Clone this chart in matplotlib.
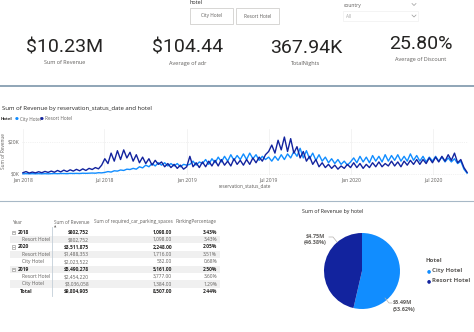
import matplotlib
matplotlib.use('Agg')
import matplotlib.pyplot as plt
import matplotlib.ticker as mticker
from matplotlib.patches import Rectangle
from matplotlib.lines import Line2D
import pandas as pd

# KPI cards
kpi_values = ['$10.23M', '$104.44', '367.94K', '25.80%']
kpi_labels = ['Sum of Revenue', 'Average of adr', 'TotalNights', 'Average of Discount']

# weekly revenue in $K, one list per year (weeks start on Monday)
resort_2018 = [0.8, 1.5, 0.6, 1.2, 0.7,  1.4, 0.8, 1.6, 1.0,  1.8, 1.1, 2.2, 1.3,
               2.4, 1.5, 2.6, 1.8, 2.9,  2.0, 3.2, 2.2, 3.5,  2.8, 4.0, 3.2, 5.5,
               9.5, 6.5, 13.0, 8.0, 14.5,  9.0, 15.0, 10.0, 13.5,  8.0, 12.0, 7.0, 10.5,
               6.5, 9.5, 5.5, 8.5, 6.0,  7.5, 4.5, 6.5, 4.0,  6.0, 3.5, 5.5, 3.0, 4.5]
resort_2019 = [11.0, 4.5, 7.0, 4.0,  7.5, 4.5, 8.0, 5.0,  8.5, 5.0, 9.0, 5.5,
               8.0, 5.0, 9.5, 6.0, 8.5,  5.5, 9.0, 6.0, 10.0,  7.0, 10.5, 8.0, 12.0,
               14.0, 18.0, 13.0, 21.0, 15.0,  23.0, 14.0, 22.0, 13.0,
               17.0, 10.0, 14.0, 8.0, 11.0,  6.0, 9.0, 4.5, 7.0,  4.0, 6.0, 3.5, 5.5,
               3.0, 5.0, 3.5, 6.0, 4.0]
resort_2020 = [7.0, 4.0, 6.5, 3.5,  6.0, 4.0, 7.0, 4.5,  7.5, 4.5, 6.5, 5.0, 8.0,
               5.0, 7.5, 4.5, 8.0,  5.5, 8.5, 6.0, 9.0,  6.0, 9.0, 6.5, 10.0, 7.0,
               10.5, 7.5, 11.0, 8.0,  12.0, 8.5, 13.0, 7.0, 9.0,  4.0, 1.0]

city_2018 = [0.1, 0.2, 0.1, 0.2, 0.1,  0.2, 0.1, 0.2, 0.1,  0.2, 0.3, 0.2, 0.3,
             0.3, 0.2, 0.4, 0.3, 0.4,  0.3, 0.5, 0.4, 0.5,  0.6, 0.5, 0.8, 0.7,
             1.0, 1.5, 1.2, 2.0, 1.8,  2.5, 2.2, 3.0, 2.8,  3.5, 3.0, 4.5, 3.8,
             5.5, 4.5, 6.5, 5.0, 7.0,  5.5, 7.0, 5.0, 6.5,  5.0, 6.5, 4.5, 6.0, 5.5]
city_2019 = [6.0, 8.0, 5.5, 7.5,  6.5, 9.0, 6.0, 9.5,  7.0, 10.5, 7.5, 11.0,
             8.0, 12.0, 8.5, 11.5, 9.0,  12.5, 9.0, 13.0, 9.5,  12.0, 8.5, 11.0, 9.0,
             10.5, 8.0, 11.0, 8.5, 12.0,  9.0, 12.5, 10.0, 14.0,
             11.0, 16.0, 10.0, 14.5, 9.5,  13.0, 8.5, 12.0, 8.0,  10.5, 7.0, 9.5, 6.5,
             9.0, 6.0, 8.0, 5.5, 7.5]
city_2020 = [10.0, 7.0, 11.0, 7.5,  10.5, 7.0, 11.5, 8.0,  11.0, 7.5, 12.0, 8.0, 11.5,
             8.5, 12.0, 8.0, 11.0,  8.0, 12.5, 8.5, 11.5,  8.0, 11.0, 7.5, 10.5, 8.0,
             11.0, 8.0, 10.5, 7.5,  10.0, 7.5, 9.5, 6.5, 8.0,  3.0, 0.5]

# matrix rows
row_labels = ['2018', 'Resort Hotel', '2020', 'Resort Hotel', 'City Hotel',
              '2019', 'Resort Hotel', 'City Hotel', 'Total']
row_level = [0, 1, 0, 1, 1, 0, 1, 1, 2]
row_revenue = [802752, 802752, 3511875, 1488353, 2023522, 5490278, 2454220, 3036058, 9804905]
row_parking = [1098, 1098, 2248, 1716, 532, 5161, 3777, 1384, 8507]
row_parking_pct = [3.43, 3.43, 2.05, 3.51, 0.68, 2.50, 3.60, 1.29, 2.44]

# pie
hotels = ['City Hotel', 'Resort Hotel']
hotel_revenue = [5.486e6, 4.746e6]

CITY = '#118DFF'
RESORT = '#12239E'
DARK = '#252423'
GREY = '#605e5c'
SANS = ['Open Sans', 'DejaVu Sans']

W, H = 474, 332
fig = plt.figure(figsize=(W / 100, H / 100), dpi=100)
fig.patch.set_facecolor('white')


def fx(x):
    return x / W


def fy(y):
    return 1 - y / H


def txt(x, y, s, **kw):
    kw.setdefault('family', SANS)
    kw.setdefault('va', 'center')
    fig.text(fx(x), fy(y), s, **kw)


def box(x0, y0, x1, y1, **kw):
    fig.add_artist(Rectangle((fx(x0), fy(y1)), fx(x1) - fx(x0), fy(y0) - fy(y1),
                             transform=fig.transFigure, **kw))


def hline(x0, x1, y, **kw):
    fig.add_artist(Line2D([fx(x0), fx(x1)], [fy(y), fy(y)], transform=fig.transFigure, **kw))


def chevron(x, y):
    fig.add_artist(Line2D([fx(x - 2), fx(x), fx(x + 2)], [fy(y - 1), fy(y + 1), fy(y - 1)],
                          transform=fig.transFigure, color='#9a9a9a', lw=0.5))


# slicers
txt(190, 2, 'hotel', fontsize=4, color=DARK)
for label, x0, x1 in [('City Hotel', 190, 233), ('Resort Hotel', 236, 279)]:
    box(x0, 8, x1, 24, facecolor='white', edgecolor='#c8c6c4', lw=0.5)
    txt((x0 + x1) / 2, 16, label, fontsize=3.4, color=GREY, ha='center')
txt(344, 5.5, 'country', fontsize=3.6, color=GREY)
chevron(414, 4.5)
box(343, 11, 418, 21, facecolor='none', edgecolor='#ececec', lw=0.4)
txt(346, 16, 'All', fontsize=3.4, color='#a8a8a8')
chevron(414, 16)

# KPI cards
kpi_x = [65, 188, 306, 421]
kpi_y = [48, 48, 48, 44]
for x, y, v, lab in zip(kpi_x, kpi_y, kpi_values, kpi_labels):
    txt(x, y, v, fontsize=14, color=DARK, ha='center', family=['Roboto', 'DejaVu Sans'])
    txt(x, y + 15, lab, fontsize=4, color=GREY, ha='center')

hline(0, W, 86, color='#8fa5b7', lw=1.4)
hline(0, W, 201, color='#a7b8c6', lw=0.8)

# line chart
resort = resort_2018 + resort_2019 + resort_2020
city = city_2018 + city_2019 + city_2020
dates = pd.date_range('2018-01-01', periods=len(resort), freq='W-MON')
df = pd.DataFrame({'City Hotel': city, 'Resort Hotel': resort}, index=dates) * 1000

txt(2, 108, 'Sum of Revenue by reservation_status_date and hotel', fontsize=4.3, color=DARK)
txt(0.5, 119, 'Hotel', fontsize=3.1, color=DARK, weight='bold')
txt(16.5, 119, '●', fontsize=3.2, color=CITY, ha='center', family='DejaVu Sans')
txt(19.5, 119, 'City Hotel', fontsize=3.3, color=GREY)
txt(42, 119, '●', fontsize=3.2, color=RESORT, ha='center', family='DejaVu Sans')
txt(45, 119, 'Resort Hotel', fontsize=3.3, color=GREY)

ax = fig.add_axes([fx(22), fy(174.8), (468 - 22) / W, (174.8 - 129) / H])
ax.plot(df.index, df['City Hotel'], color=CITY, lw=1.0)
ax.plot(df.index, df['Resort Hotel'], color=RESORT, lw=1.0)
ax.set_xlim(pd.Timestamp('2017-12-30'), pd.Timestamp('2020-09-16'))
ax.set_ylim(-500, 28000)
ax.set_yticks([0, 20000])
ax.yaxis.set_major_formatter(mticker.FuncFormatter(lambda v, p: f'${v / 1000:.0f}K'))
xt = pd.to_datetime(['2018-01-01', '2018-07-01', '2019-01-01', '2019-07-01',
                     '2020-01-01', '2020-07-01'])
ax.set_xticks(xt)
ax.set_xticklabels([d.strftime('%b %Y') for d in xt])
ax.tick_params(length=0, labelsize=3.6, labelcolor=GREY, pad=1.5)
for lab in ax.get_xticklabels() + ax.get_yticklabels():
    lab.set_family(SANS)
ax.grid(True, axis='x', color='#efefef', lw=0.5)
ax.grid(True, axis='y', color='#e6e6e6', lw=0.5, ls=':')
ax.set_axisbelow(True)
for s in ax.spines.values():
    s.set_visible(False)
ax.set_facecolor('none')
txt(4, 151, 'Sum of Revenue', fontsize=3.4, color=GREY, rotation=90, ha='center')
txt(245, 185.5, 'reservation_status_date', fontsize=3.4, color=GREY, ha='center')

# matrix
row_y = [232.3, 239.7, 247, 254.3, 261.7, 269.3, 276.7, 284, 291.7]
txt(12, 222, 'Year', fontsize=3.4, color=GREY)
txt(89, 222, 'Sum of Revenue', fontsize=3.3, color=GREY, ha='right')
txt(55, 226.5, '▲', fontsize=2.2, color=GREY, ha='center', family='DejaVu Sans')
txt(173, 222, 'Sum of required_car_parking_spaces', fontsize=3.3, color=GREY, ha='right')
txt(217, 222, 'ParkingPercentage', fontsize=3.3, color=GREY, ha='right')
for i, y in enumerate(row_y):
    if i % 2 == 1:
        box(10, y - 3.6, 220, y + 3.6, facecolor='#f0f0f0', edgecolor='none')
for i, (y, lab, lvl) in enumerate(zip(row_y, row_labels, row_level)):
    bold = lvl != 1
    col = DARK if bold else GREY
    w = 'bold' if bold else 'normal'
    if lvl == 0:
        box(12, y - 1.6, 15.2, y + 1.6, facecolor='white', edgecolor='#8a8886', lw=0.4)
        hline(12.8, 14.4, y, color='#605e5c', lw=0.4)
        txt(18, y, lab, fontsize=3.6, color=col, weight=w)
    elif lvl == 1:
        txt(22, y, lab, fontsize=3.5, color=col)
    else:
        txt(20, y, lab, fontsize=3.6, color=col, weight=w)
    txt(89, y, f'${row_revenue[i]:,}', fontsize=3.5, color=col, weight=w, ha='right')
    txt(172, y, f'{row_parking[i]:,.2f}', fontsize=3.5, color=col, weight=w, ha='right')
    txt(217, y, f'{row_parking_pct[i]:.2f}%', fontsize=3.5, color=col, weight=w, ha='right')
fig.add_artist(Line2D([fx(52), fx(52)], [fy(227), fy(295.5)], transform=fig.transFigure,
                      color='#c3ced8', lw=0.6))

# pie
txt(333, 211, 'Sum of Revenue by hotel', fontsize=3.8, color=DARK, ha='center')
cx, cy, r = 362, 271, 38
pax = fig.add_axes([fx(cx - r), fy(cy + r), 2 * r / W, 2 * r / H])
pax.pie(hotel_revenue, colors=[CITY, RESORT], startangle=90, counterclock=False,
        radius=1, wedgeprops=dict(linewidth=0))
pax.set_xlim(-1, 1)
pax.set_ylim(-1, 1)
pax.set_aspect('auto')
pax.axis('off')

total = sum(hotel_revenue)
city_lab = f'${hotel_revenue[0] / 1e6:.2f}M\n({hotel_revenue[0] / total * 100:.2f}%)'
resort_lab = f'${hotel_revenue[1] / 1e6:.2f}M\n({hotel_revenue[1] / total * 100:.2f}%)'
txt(315, 239.5, resort_lab, fontsize=4, color=GREY, weight='bold', ha='center', linespacing=1.25)
fig.add_artist(Line2D([fx(329), fx(333), fx(337)], [fy(237), fy(237), fy(242)],
                      transform=fig.transFigure, color='#b3b0ad', lw=0.5))
txt(393, 306, city_lab, fontsize=4, color=GREY, weight='bold', ha='left', linespacing=1.25)
fig.add_artist(Line2D([fx(385), fx(389), fx(392)], [fy(298), fy(303), fy(303)],
                      transform=fig.transFigure, color='#b3b0ad', lw=0.5))

txt(426, 260.7, 'Hotel', fontsize=4.4, color=GREY, weight='bold')
txt(428.5, 270.3, '●', fontsize=3.4, color=CITY, ha='center', family='DejaVu Sans')
txt(432, 270.3, 'City Hotel', fontsize=4.4, color=GREY, weight='bold')
txt(428.5, 280.7, '●', fontsize=3.4, color=RESORT, ha='center', family='DejaVu Sans')
txt(432, 280.7, 'Resort Hotel', fontsize=4.4, color=GREY, weight='bold')

fig.savefig('out.png', dpi=100)
